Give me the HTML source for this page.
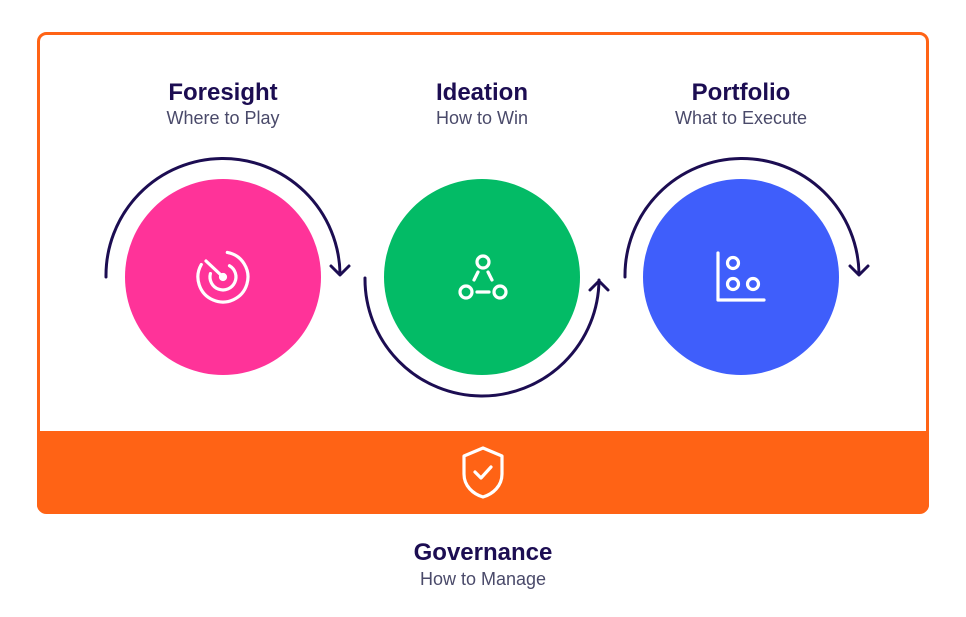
<!DOCTYPE html>
<html><head><meta charset="utf-8"><style>
html,body{margin:0;padding:0;background:#fff;}
svg{display:block}
.t{font-family:"Liberation Sans",sans-serif;font-weight:bold;fill:#1c0d52;font-size:24px;text-anchor:middle}
.s{font-family:"Liberation Sans",sans-serif;fill:#4a4a6a;font-size:18px;text-anchor:middle}
</style></head><body>
<svg width="966" height="617" viewBox="0 0 966 617">
<rect x="38.5" y="33.5" width="889" height="479" rx="8" fill="#fff" stroke="#FF6315" stroke-width="3"/>
<path d="M37 431 H929 V505 a8 8 0 0 1 -8 8 H45 a8 8 0 0 1 -8 -8 Z" fill="#FF6315"/>
<text class="t" x="223" y="100">Foresight</text><text class="s" x="223" y="124">Where to Play</text>
<text class="t" x="482" y="100">Ideation</text><text class="s" x="482" y="124">How to Win</text>
<text class="t" x="741" y="100">Portfolio</text><text class="s" x="741" y="124">What to Execute</text>
<text class="t" x="483" y="560">Governance</text><text class="s" x="483" y="585">How to Manage</text>
<circle cx="223" cy="277" r="98" fill="#FF3399"/>
<circle cx="482" cy="277" r="98" fill="#03BB66"/>
<circle cx="741" cy="277" r="98" fill="#3F5EFB"/>
<g fill="none" stroke="#1c0d52" stroke-width="3" stroke-linecap="round" stroke-linejoin="round">
<path d="M106 277 A117 117 0 0 1 340 274"/><path d="M331 266 L340 275 L349 266"/>
<path d="M365 278 A117 117 0 0 0 599 280"/><path d="M590 290 L599 281 L608 290"/>
<path d="M625 277 A117 117 0 0 1 859 274"/><path d="M850 266 L859 275 L868 266"/>
</g>
<g fill="none" stroke="#fff" stroke-width="3.2" stroke-linecap="round" stroke-linejoin="round">
<path d="M227.3 252.4 A25 25 0 1 1 201.3 264.5"/>
<path d="M229.5 265.7 A13 13 0 1 1 210.4 273.6"/>
<line x1="206" y1="261" x2="222" y2="276"/>
<circle cx="223" cy="277" r="2.5" fill="#fff"/>
<circle cx="483" cy="262" r="6"/><circle cx="466" cy="292" r="6"/><circle cx="500" cy="292" r="6"/>
<line x1="478" y1="272" x2="474" y2="280"/><line x1="488" y1="272" x2="492" y2="280"/><line x1="477" y1="292" x2="489" y2="292"/>
<path d="M718 253 V300 H764"/>
<circle cx="733" cy="263" r="5.5"/><circle cx="733" cy="284" r="5.5"/><circle cx="753" cy="284" r="5.5"/>
<path d="M483 448 L502 456 V474 C502 486 493 494 483 497 C473 494 464 486 464 474 V456 Z"/>
<path d="M475 472 L481 478 L491 467"/>
</g>
</svg>
</body></html>
